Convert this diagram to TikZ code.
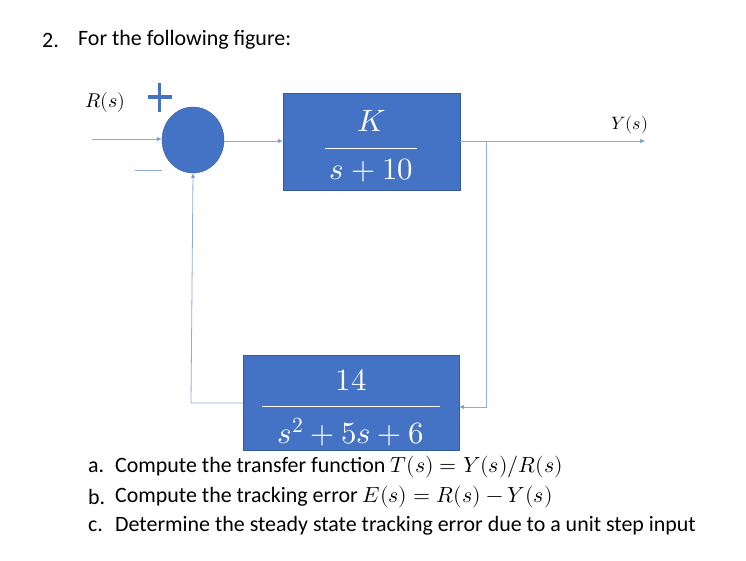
\documentclass[tikz,border=0pt]{standalone}
\usepackage{fontspec}
\usepackage{unicode-math}
\setmainfont{Carlito}
\setmathfont{Latin Modern Math}
\usetikzlibrary{arrows.meta,shapes.geometric}
\definecolor{blk}{RGB}{68,114,196}
\definecolor{ln}{RGB}{143,170,220}
\tikzset{
  blockbox/.style={fill=blk,draw=blk!80!black,line width=0.5pt,inner sep=0pt},
  wire/.style={draw=ln,line width=0.8pt},
  arr/.style={wire,-{Triangle[length=5pt,width=4pt,fill=blk]}},
  txt/.style={anchor=west,inner sep=0pt,font=\fontsize{22}{24}\selectfont}
}
\begin{document}
\begin{tikzpicture}[x=1bp,y=-1bp]
\useasboundingbox (0,0) rectangle (746,561);
\node[txt] (n2) at (42,40) {2.};
\node[txt] (title) at (78,40) {For the following figure:};
\node[anchor=west,inner sep=0pt,font=\fontsize{20}{22}\selectfont] (R) at (85,103) {$R(s)$};
\fill[blk] (148,95) rectangle (172,99);
\fill[blk] (158,83) rectangle (160.5,112);
\node[ellipse,minimum width=62bp,minimum height=66bp,fill=blk,draw=blk!80!black,inner sep=0pt] (sum) at (193,140) {};
\draw[wire] (135,170) -- (162,170);
\coordinate (rin) at (92,139);
\draw[arr] (rin) -- (sum.west |- rin);
\node[blockbox,minimum width=177bp,minimum height=97bp] (G) at (371.5,141.5) {};
\node[text=white,font=\fontsize{31}{33}\selectfont] (K) at (371.5,121) {$K$};
\draw[white,line width=0.8pt] (325,148) -- (417,148);
\node[text=white,font=\fontsize{31}{33}\selectfont] (den1) at (371.5,170) {$s+10$};
\draw[arr] (sum.east |- 0,141) -- (G.west |- 0,141);
\coordinate (yout) at (645,141);
\coordinate (br) at (486,141);
\draw[arr] (G.east |- 0,141) -- (yout);
\node[font=\fontsize{18}{20}\selectfont] (Y) at (630,125) {$Y(s)$};
\node[blockbox,minimum width=216bp,minimum height=95bp] (H) at (351,402.5) {};
\node[text=white,font=\fontsize{31}{33}\selectfont] (n14) at (351,380) {$14$};
\draw[white,line width=0.8pt] (262,406) -- (440,406);
\node[text=white,font=\fontsize{31}{33}\selectfont] (den2) at (351,432) {$s^2+5s+6$};
\coordinate (br2) at (486,407);
\draw[arr] (br) -- (br2) -- (H.east |- br2);
\coordinate (fb) at (191,403);
\draw[arr] (H.west |- fb) -- (fb) -- (sum.south);
\node[txt] (la) at (88,467) {a.};
\node[txt] (ta) at (115,467) {Compute the transfer function $T(s)=Y(s)/R(s)$};
\node[txt] (lb) at (88,497) {b.};
\node[txt] (tb) at (115,497) {Compute the tracking error $E(s)=R(s)-Y(s)$};
\node[txt] (lc) at (88,526) {c.};
\node[txt] (tc) at (115,526) {Determine the steady state tracking error due to a unit step input};
\end{tikzpicture}
\end{document}
